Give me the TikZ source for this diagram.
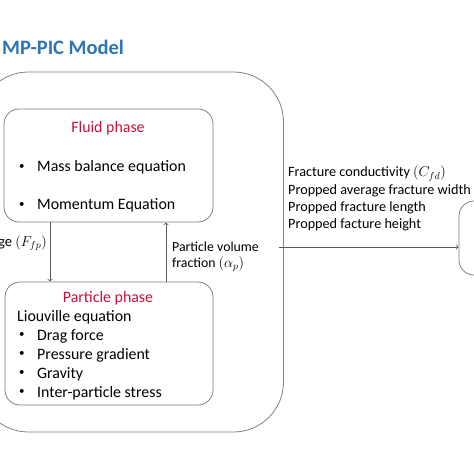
\documentclass[tikz,border=0pt]{standalone}
\usepackage{fontspec}
\setmainfont{Carlito}
\usepackage{xcolor}
\definecolor{titleblue}{RGB}{46,117,182}
\definecolor{phasered}{RGB}{200,16,60}
\definecolor{linegray}{RGB}{128,128,128}

\begin{document}
\begin{tikzpicture}[x=1bp,y=-1bp]
				\tikzstyle{every node}+=[inner sep=0pt]
				\tikzstyle{box}=[draw=linegray, line width=0.8bp, rounded corners=15bp]
				\tikzstyle{arr}=[draw=linegray!70!black, line width=0.8bp, ->]
				\tikzstyle{item}=[anchor=base west, font=\fontsize{15.9bp}{18bp}\selectfont]
				\tikzstyle{dot}=[anchor=base west, yshift=2.5bp, font=\fontsize{11bp}{18bp}\selectfont]
				\tikzstyle{lbl}=[anchor=base west, font=\fontsize{14.2bp}{17.5bp}\selectfont]
				\useasboundingbox (0,0) rectangle (474,474);
				\clip (0,0) rectangle (474,474);
				\node [anchor=base west, font=\bfseries\fontsize{20.5bp}{24bp}\selectfont, text=titleblue] (title) at (2,55) {MP-PIC Model};
				\node [box, rounded corners=50bp, minimum width=305bp, minimum height=360bp] (mppic) at (131,252) {};
				\node [box, minimum width=209bp, minimum height=113bp] (fluid) at (108.5,165.5) {};
				\node [box, minimum width=208bp, minimum height=123bp] (part) at (109,343.5) {};
				\node [box, minimum width=120bp, minimum height=74bp] (res) at (519,238) {};
				\draw (108,133) node [anchor=base, text=phasered, font=\fontsize{15.9bp}{18bp}\selectfont] (fluidt) {Fluid phase};
				\draw (19,172) node [dot] (f1) {\textbullet};
				\draw (37,172) node [item] (f1t) {Mass balance equation};
				\draw (19,210) node [dot] (f2) {\textbullet};
				\draw (37,210) node [item] (f2t) {Momentum Equation};
				\draw (108,302) node [anchor=base, text=phasered, font=\fontsize{15.9bp}{18bp}\selectfont] (partt) {Particle phase};
				\draw (17,321) node [item] (p0) {Liouville equation};
				\draw (19,340) node [dot] (p1) {\textbullet};
				\draw (37,340) node [item] (p1t) {Drag force};
				\draw (19,359) node [dot] (p2) {\textbullet};
				\draw (37,359) node [item] (p2t) {Pressure gradient};
				\draw (19,378) node [dot] (p3) {\textbullet};
				\draw (37,378) node [item] (p3t) {Gravity};
				\draw (19,397) node [dot] (p4) {\textbullet};
				\draw (37,397) node [item] (p4t) {Inter-particle stress};
				\coordinate (dn) at (50,0);
				\coordinate (up) at (166,0);
				\coordinate (hz) at (0,247);
				\draw [arr] (fluid.south -| dn) -- (part.north -| dn);
				\draw [arr] (part.north -| up) -- (fluid.south -| up);
				\draw [arr] ([xshift=-5bp]hz -| mppic.east) -- (hz -| res.west);
				\draw (47,246) node [anchor=base east, font=\fontsize{14.6bp}{17.5bp}\selectfont] (drag) {ge $(F_{fp})$};
				\draw (172,251) node [anchor=base west, font=\fontsize{13.8bp}{16bp}\selectfont] (vol1) {Particle volume};
				\draw (172,267) node [anchor=base west, font=\fontsize{13.8bp}{16bp}\selectfont] (vol2) {fraction $(\alpha_p)$};
				\draw (288,177) node [lbl] (r1) {Fracture conductivity $(C_{fd})$};
				\draw (288,195) node [lbl] (r2) {Propped average fracture width};
				\draw (288,212) node [lbl] (r3) {Propped fracture length};
				\draw (288,229) node [lbl] (r4) {Propped facture height};
				\end{tikzpicture}
\end{document}
